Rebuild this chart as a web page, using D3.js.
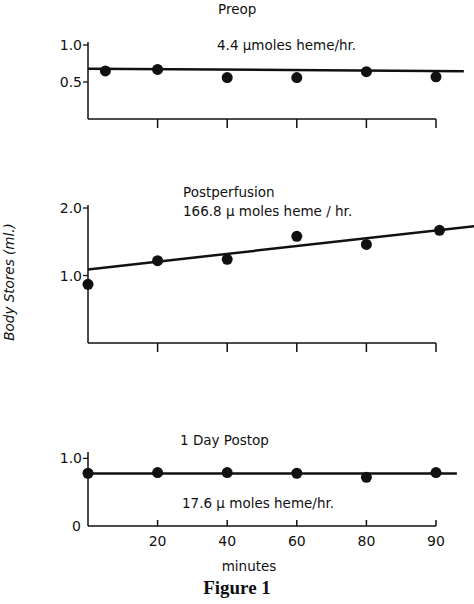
<!DOCTYPE html><html><head><meta charset="utf-8"><script src="https://cdn.jsdelivr.net/npm/d3@7"></script>
<style>body{margin:0;background:#fff}text{font-family:"DejaVu Sans",sans-serif;fill:#111}</style></head><body><svg id="c" width="474" height="604"></svg><script>
const tickValues=[20,40,60,80,100];
const tickLabels=["20","40","60","80","90"];
const preopX=[5,20,40,60,80,100], preopY=[0.65,0.67,0.56,0.56,0.64,0.57], preopFit=[[0,0.68],[108,0.645]];
const postX=[0,20,40,60,80,101], postY=[0.87,1.22,1.24,1.58,1.46,1.67], postFit=[[0,1.09],[111,1.73]];
const dayX=[0,20,40,60,80,100], dayY=[0.78,0.79,0.79,0.78,0.72,0.79], dayFit=[[0,0.775],[106,0.775]];
const svg=d3.select("#c");
const x=d3.scaleLinear().domain([0,100]).range([88,436]);
const panels=[
 {top:45,zero:119,max:1.0,yt:[0.5,1.0],yl:["0.5","1.0"],xs:preopX,ys:preopY,fit:preopFit,t1:["Preop",218,14],t2:["4.4 \u03bcmoles  heme/hr.",217,50]},
 {top:208,zero:343,max:2.0,yt:[1.0,2.0],yl:["1.0","2.0"],xs:postX,ys:postY,fit:postFit,t1:["Postperfusion",183,197],t2:["166.8 \u03bc moles heme / hr.",183,216]},
 {top:455,zero:526,max:1.05,yt:[0,1.0],yl:["0","1.0"],xs:dayX,ys:dayY,fit:dayFit,t1:["1 Day Postop",180,445],t2:["17.6 \u03bc moles heme/hr.",182,508],last:true}
];
panels.forEach(p=>{
 const y=d3.scaleLinear().domain([0,p.max]).range([p.zero,p.top]);
 const g=svg.append("g");
 g.append("line").attr("x1",88).attr("x2",88).attr("y1",p.top-3).attr("y2",p.zero).attr("stroke","#111").attr("stroke-width",1.5);
 g.append("line").attr("x1",88).attr("x2",436).attr("y1",p.zero).attr("y2",p.zero).attr("stroke","#111").attr("stroke-width",1.5);
 tickValues.forEach(v=>g.append("line").attr("x1",x(v)).attr("x2",x(v)).attr("y1",p.zero).attr("y2",p.zero+(p.last?-6:9)).attr("stroke","#111").attr("stroke-width",1.5));
 p.yt.forEach((v,i)=>{
  if(v>0)g.append("line").attr("x1",83).attr("x2",88).attr("y1",y(v)).attr("y2",y(v)).attr("stroke","#111").attr("stroke-width",1.3);
  g.append("text").attr("x",v>0?82:81).attr("y",y(v)+5).attr("text-anchor","end").attr("font-size",14).text(p.yl[i]);
 });
 g.append("line").attr("x1",x(p.fit[0][0])).attr("y1",y(p.fit[0][1])).attr("x2",x(p.fit[1][0])).attr("y2",y(p.fit[1][1])).attr("stroke","#111").attr("stroke-width",2.5);
 g.selectAll("circle").data(p.xs).join("circle").attr("cx",d=>x(d)).attr("cy",(d,i)=>y(p.ys[i])).attr("r",5.5).attr("fill","#111");
 g.append("text").attr("x",p.t1[1]).attr("y",p.t1[2]).attr("font-size",13.5).text(p.t1[0]);
 g.append("text").attr("x",p.t2[1]).attr("y",p.t2[2]).attr("font-size",13.5).text(p.t2[0]);
 if(p.last){
  tickValues.forEach((v,i)=>g.append("text").attr("x",x(v)).attr("y",546).attr("text-anchor","middle").attr("font-size",14).text(tickLabels[i]));
 }
});
svg.append("text").attr("x",249).attr("y",571).attr("text-anchor","middle").attr("font-size",13.5).text("minutes");
svg.append("text").attr("x",237).attr("y",594).attr("text-anchor","middle").attr("font-size",19).attr("font-weight","bold").style("font-family","'Liberation Serif',serif").text("Figure  1");
svg.append("text").attr("transform","translate(14,282) rotate(-90)").attr("text-anchor","middle").attr("font-size",13.5).attr("font-style","italic").text("Body  Stores  (ml.)");
</script></body></html>
